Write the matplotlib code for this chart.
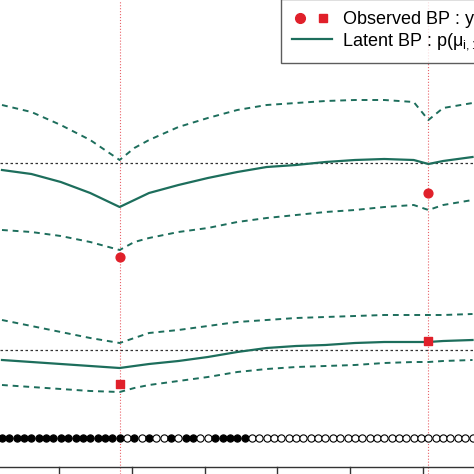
import matplotlib
matplotlib.use("Agg")
import matplotlib.pyplot as plt
from matplotlib.lines import Line2D
from matplotlib.legend_handler import HandlerTuple

plt.rcParams['font.family'] = ['Liberation Sans', 'DejaVu Sans']
plt.rcParams['mathtext.fontset'] = 'custom'
plt.rcParams['mathtext.rm'] = 'Liberation Sans'
plt.rcParams['mathtext.it'] = 'Liberation Sans'

# time index of samples
t = [0, 4, 8, 12, 16, 18, 20, 24, 28, 32, 36, 40, 44, 48, 52, 56, 58, 60, 64]

# upper series, plotted on an inverted scale
up_mean = [170, 174, 182, 193, 207, 200, 193, 185, 178, 172, 167, 165, 162, 160, 159, 160, 164, 161, 157]
up_hi = [105, 112, 125, 140, 160, 148, 140, 127, 118, 110, 105, 103, 101, 100, 100, 102, 120, 108, 103]
up_lo = [230, 232, 236, 242, 250, 242, 238, 232, 228, 222, 218, 215, 212, 210, 207, 205, 210, 205, 200]
up_ref = 163

# lower series
lo_mean = [360, 362, 364, 366, 368, 366, 364, 361, 357, 352, 348, 346, 345, 343, 342, 342, 342, 341, 340]
lo_hi = [320, 326, 332, 338, 343, 338, 333, 330, 326, 322, 320, 318, 317, 316, 315, 315, 315, 315, 314]
lo_lo = [385, 387, 389, 391, 392, 388, 385, 381, 377, 372, 369, 367, 366, 365, 363, 362, 362, 361, 360]
lo_ref = 350

# observations
obs_t = [16, 58]
obs_up = [257, 193]
obs_lo = [384, 341]

# indicator dots (1 = filled)
ind = [1] * 17 + [0, 1, 0, 1, 0, 0, 1, 0, 1, 1, 0, 0, 1, 1, 1, 1, 1] + [0] * 31
ind_y = 438
ticks = [7.76, 17.7, 27.6, 37.4, 47.3, 57.3]

teal = "#1d6e5c"
red = "#e0202a"

fig = plt.figure(figsize=(4.74, 4.74), dpi=100)
ax = fig.add_axes([0, 0, 1, 1])
ax.set_xlim(-0.27, 64.2)
ax.set_ylim(474, 0)

for v in obs_t:
    ax.axvline(v, color=red, ls=":", lw=0.8, alpha=0.7)
for r in (up_ref, lo_ref):
    ax.axhline(r, color="#333333", ls=(0, (2, 2)), lw=0.9)

ax.plot(t, up_mean, color=teal, lw=1.6)
ax.plot(t, up_hi, color=teal, lw=1.4, ls=(0, (3, 2.5)))
ax.plot(t, up_lo, color=teal, lw=1.4, ls=(0, (3, 2.5)))
ax.plot(t, lo_mean, color=teal, lw=1.6)
ax.plot(t, lo_hi, color=teal, lw=1.4, ls=(0, (3, 2.5)))
ax.plot(t, lo_lo, color=teal, lw=1.4, ls=(0, (3, 2.5)))

ax.scatter(obs_t, obs_up, color=red, s=40, marker="o", zorder=5)
ax.scatter(obs_t, obs_lo, color=red, s=38, marker="s", zorder=5)

for i, f in enumerate(ind):
    ax.plot(i, ind_y, "o", ms=5.2, mec="black", mew=0.8,
            mfc="black" if f else "white", zorder=4)

# bottom axis
ax.axhline(467, color="#333333", lw=1)
for x in ticks:
    ax.plot([x, x], [467, 480], color="#333333", lw=1)

for s in ax.spines.values():
    s.set_visible(False)
ax.set_xticks([])
ax.set_yticks([])

h1 = (Line2D([], [], ls="", marker="o", color=red, ms=7),
      Line2D([], [], ls="", marker="s", color=red, ms=6))
h2 = Line2D([], [], color=teal, lw=1.6)
leg = ax.legend([h1, h2], [r"Observed BP : $\mathrm{y_{i,1}}$ and $\mathrm{y_{i,2}}$",
                           r"Latent BP : $\mathrm{p(\mu_{i,1}, \mu_{i,2})}$"],
                handler_map={tuple: HandlerTuple(ndivide=None, pad=0.3)},
                loc="lower left", bbox_to_anchor=(272 / 474, 1 - 72 / 474),
                bbox_transform=fig.transFigure, fontsize=13, frameon=True,
                fancybox=False, edgecolor="#333333", handlelength=2.2,
                borderpad=0.6, labelspacing=0.05, handletextpad=0.6)
leg.get_frame().set_linewidth(1)

fig.savefig("out.png", dpi=100)
